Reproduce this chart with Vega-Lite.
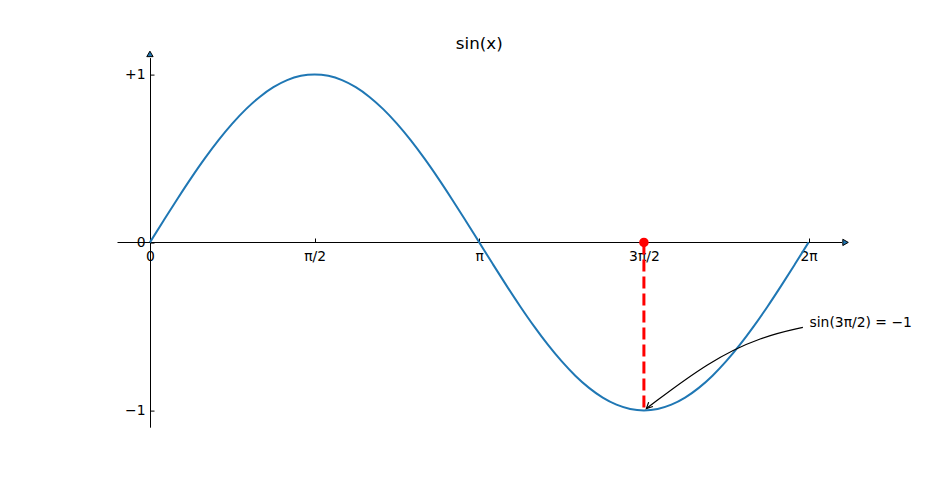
{
  "$schema": "https://vega.github.io/schema/vega-lite/v6.json",
  "width": 724.5,
  "height": 369.6,
  "autosize": {"type": "none"},
  "padding": {"left": 117, "top": 57.6, "right": 93.5, "bottom": 52.8},
  "background": "white",
  "title": {"text": "sin(x)", "font": "DejaVu Sans", "fontSize": 16.7, "fontWeight": "normal", "color": "black", "anchor": "middle", "offset": -4},
  "config": {
    "view": {"stroke": null},
    "axis": {"grid": false, "domainColor": "black", "domainWidth": 1, "tickColor": "black", "tickWidth": 1, "labelColor": "black", "labelFont": "DejaVu Sans", "labelFontSize": 13.9, "title": null}
  },
  "datasets": {
    "curve": [
      {"x": 0, "y": 0}, {"x": 0.1309, "y": 0.1305}, {"x": 0.2618, "y": 0.2588}, {"x": 0.3927, "y": 0.3827},
      {"x": 0.5236, "y": 0.5}, {"x": 0.6545, "y": 0.6088}, {"x": 0.7854, "y": 0.7071}, {"x": 0.9163, "y": 0.7934},
      {"x": 1.0472, "y": 0.866}, {"x": 1.1781, "y": 0.9239}, {"x": 1.309, "y": 0.9659}, {"x": 1.4399, "y": 0.9914},
      {"x": 1.5708, "y": 1}, {"x": 1.7017, "y": 0.9914}, {"x": 1.8326, "y": 0.9659}, {"x": 1.9635, "y": 0.9239},
      {"x": 2.0944, "y": 0.866}, {"x": 2.2253, "y": 0.7934}, {"x": 2.3562, "y": 0.7071}, {"x": 2.4871, "y": 0.6088},
      {"x": 2.618, "y": 0.5}, {"x": 2.7489, "y": 0.3827}, {"x": 2.8798, "y": 0.2588}, {"x": 3.0107, "y": 0.1305},
      {"x": 3.1416, "y": 0}, {"x": 3.2725, "y": -0.1305}, {"x": 3.4034, "y": -0.2588}, {"x": 3.5343, "y": -0.3827},
      {"x": 3.6652, "y": -0.5}, {"x": 3.7961, "y": -0.6088}, {"x": 3.927, "y": -0.7071}, {"x": 4.0579, "y": -0.7934},
      {"x": 4.1888, "y": -0.866}, {"x": 4.3197, "y": -0.9239}, {"x": 4.4506, "y": -0.9659}, {"x": 4.5815, "y": -0.9914},
      {"x": 4.7124, "y": -1}, {"x": 4.8433, "y": -0.9914}, {"x": 4.9742, "y": -0.9659}, {"x": 5.1051, "y": -0.9239},
      {"x": 5.236, "y": -0.866}, {"x": 5.3669, "y": -0.7934}, {"x": 5.4978, "y": -0.7071}, {"x": 5.6287, "y": -0.6088},
      {"x": 5.7596, "y": -0.5}, {"x": 5.8905, "y": -0.3827}, {"x": 6.0214, "y": -0.2588}, {"x": 6.1523, "y": -0.1305},
      {"x": 6.2832, "y": 0}
    ],
    "drop": [{"x": 4.71239, "y": 0, "y2": -1}],
    "dot": [{"x": 4.71239, "y": 0}],
    "note": [{"x": 6.292, "y": -0.482, "label": "sin(3π/2) = −1"}],
    "arrowpath": [
      {"x": 6.229, "y": -0.506}, {"x": 5.84, "y": -0.56}, {"x": 5.339, "y": -0.705}, {"x": 4.736, "y": -0.989}
    ],
    "arrowhead": [{"x": 4.736, "y": -0.989}],
    "xarrow": [{"x": 6.636, "y": 0}],
    "yarrow": [{"x": 0, "y": 1.122}]
  },
  "encoding": {
    "x": {
      "field": "x", "type": "quantitative",
      "scale": {"domain": [-0.31416, 6.59734], "nice": false, "zero": false},
      "axis": {"orient": "bottom", "offset": -185.2, "values": [0, 1.5707963, 3.1415927, 4.712389, 6.2831853],
        "labelExpr": "['0', 'π/2', 'π', '3π/2', '2π'][round(datum.value / (PI / 2))]",
        "tickSize": -4, "labelPadding": 11, "labelFlush": false, "labelOverlap": false, "title": null}
    },
    "y": {
      "field": "y", "type": "quantitative",
      "scale": {"domain": [-1.1, 1.1], "nice": false, "zero": false},
      "axis": {"orient": "left", "offset": -33, "values": [-1, 0, 1],
        "labelExpr": "datum.value > 0.5 ? '+1' : (datum.value < -0.5 ? '−1' : '0')",
        "tickSize": -4, "labelPadding": 9, "labelFlush": false, "labelOverlap": false, "title": null}
    }
  },
  "layer": [
    {"data": {"name": "curve"}, "mark": {"type": "line", "color": "#1f77b4", "strokeWidth": 2, "interpolate": "monotone", "clip": false}},
    {"data": {"name": "drop"}, "mark": {"type": "rule", "color": "#ff0000", "strokeWidth": 3, "strokeDash": [12, 5]}, "encoding": {"y2": {"field": "y2"}}},
    {"data": {"name": "dot"}, "mark": {"type": "point", "shape": "circle", "filled": true, "color": "#ff0000", "size": 90, "opacity": 1}},
    {"data": {"name": "arrowpath"}, "mark": {"type": "line", "color": "black", "strokeWidth": 1.2, "interpolate": "basis"}},
    {"data": {"name": "arrowhead"}, "mark": {"type": "point", "shape": "M -0.5 1 L 0 0 L 0.5 1", "filled": false, "stroke": "black", "strokeWidth": 1.2, "size": 150, "angle": 226, "opacity": 1}},
    {"data": {"name": "note"}, "mark": {"type": "text", "align": "left", "baseline": "middle", "font": "DejaVu Sans", "fontSize": 13.9, "color": "black"}, "encoding": {"text": {"field": "label"}}},
    {"data": {"name": "xarrow"}, "mark": {"type": "point", "shape": "triangle-right", "filled": true, "fill": "#1f77b4", "stroke": "black", "strokeWidth": 1, "size": 40, "opacity": 1, "clip": false}},
    {"data": {"name": "yarrow"}, "mark": {"type": "point", "shape": "triangle-up", "filled": true, "fill": "#1f77b4", "stroke": "black", "strokeWidth": 1, "size": 40, "opacity": 1, "clip": false}}
  ]
}
